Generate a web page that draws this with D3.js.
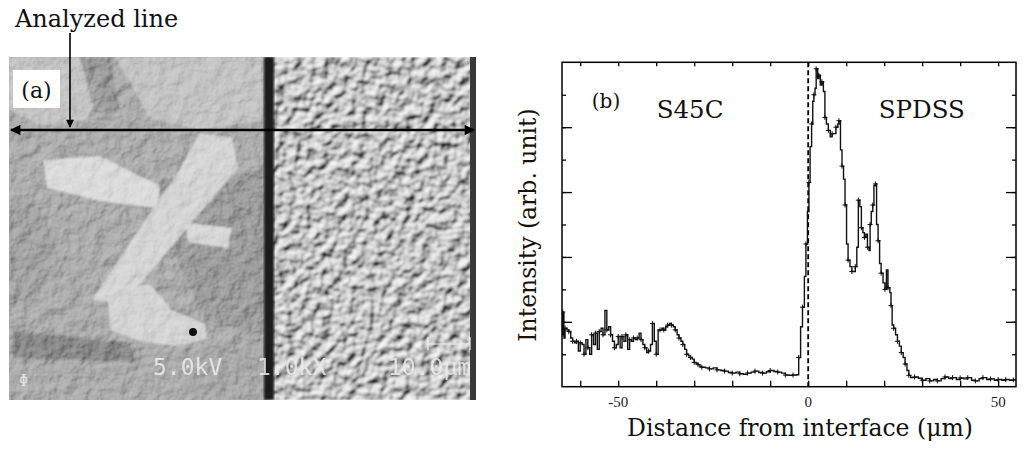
<!DOCTYPE html>
<html><head><meta charset="utf-8">
<script src="https://cdn.jsdelivr.net/npm/d3@7"></script>
<style>body{margin:0;background:#fff}svg{display:block}</style>
</head><body><svg id="c" width="1024" height="450"></svg>
<script>
// ---- data ----
const distance = [
-64.8,-64.6,-64.3,-64,-63.5,-63,-62.5,-62,-61.5,-61,-60.5,-60,-59.5,-59,-58.5,-58,-57.5,-57,-56.5,-56,
-55.5,-55,-54.5,-54,-53.5,-53,-52.5,-52,-51.5,-51,-50.5,-50,-49.5,-49,-48.5,-48,-47.5,-47,-46.5,-46,
-45.5,-45,-44.5,-44,-43.5,-43,-42.5,-42,-41.5,-41,-40.5,-40,-39.5,-39,-38.5,-38,-37.5,-37,-36.5,-36,
-35.5,-35,-34.5,-34,-33.5,-33,-32.5,-32,-31.5,-31,-30.5,-30,-29.5,-29,-28.5,-28,-27,-26,-25,-24,
-23,-22,-21,-20,-19,-18,-17,-16,-15,-14,-13,-12,-11,-10,-9,-8,-7,-6,-5,-4,
-3,-2.5,-2,-1.5,-1,-0.6,-0.2,0.2,0.5,0.9,1.2,1.5,1.8,2.1,2.5,2.8,3.2,3.6,4,4.4,
4.8,5.3,5.8,6.3,6.8,7.3,7.8,8.1,8.5,8.9,9.3,9.7,10.1,10.5,11,11.5,12,12.4,12.8,13.2,
13.6,14,14.4,14.8,15.2,15.6,16,16.3,16.6,17,17.3,17.7,18,18.4,18.8,19.2,19.7,20.2,20.6,21,
21.5,21.8,22.1,22.5,23,23.5,24,24.5,25,25.5,26,26.5,27,28,29,30,31,32,33,34,
35,36,37,38,39,40,41,42,43,44,45,46,47,48,49,50,51,52,53,54,55];
const intensity = [
1.6,2.3,1.5,1.8,1.75,1.7,1.5,1.4,1.35,1.4,1.1,1.35,1.3,1.0,1.45,1.2,1.0,1.6,1.3,1.65,
1.15,1.7,1.8,1.6,2.35,1.75,1.85,1.6,1.4,1.2,1.3,1.55,1.2,1.55,1.4,1.6,1.15,1.45,1.4,1.5,
1.45,1.5,1.65,1.45,1.3,1.2,1.05,1.1,1.3,1.95,1.4,1.0,1.75,1.75,1.8,1.75,1.85,1.9,1.95,1.9,
1.85,1.75,1.6,1.5,1.4,1.3,1.15,1.0,0.95,0.9,0.85,0.75,0.72,0.68,0.62,0.6,0.58,0.55,0.58,0.52,
0.5,0.48,0.44,0.42,0.45,0.4,0.38,0.42,0.45,0.48,0.44,0.42,0.46,0.5,0.47,0.45,0.42,0.36,0.35,0.36,
0.37,0.9,1.85,2.45,3.4,4.4,5.4,6.3,7.4,8.1,8.8,9.0,9.2,9.8,9.5,9.6,9.3,9.4,9.1,8.3,
8.1,7.9,7.7,7.8,7.8,8.0,8.1,8.2,7.3,6.8,6.4,5.6,4.4,3.9,3.7,3.55,3.55,3.7,4.3,5.75,
5.55,4.9,4.75,4.6,4.7,4.3,4.2,5.0,5.4,5.6,6.2,6.25,5.0,4.5,3.8,3.5,3.2,3.0,3.6,3.05,
2.9,2.5,1.9,1.8,1.6,1.4,1.25,1.05,0.9,0.7,0.5,0.35,0.28,0.3,0.26,0.2,0.25,0.18,0.22,0.18,
0.25,0.3,0.25,0.28,0.22,0.27,0.24,0.28,0.2,0.18,0.25,0.28,0.22,0.24,0.2,0.22,0.2,0.22,0.2,0.21,0.25];
const xMinorTicks = [-60,-50,-40,-30,-20,-10,0,10,20,30,40,50];
const xTickLabels = [-50,0,50];
const yTicks = [1,2,3,4,5,6,7,8,9];
const yMajorTicks = [2,4,6,8];
const regionLabels = [{t:"S45C",x:-31.1},{t:"SPDSS",x:29.9}];

const svg = d3.select("#c");
const serif = "'DejaVu Serif', serif";

// ================= panel (a): micrograph approximation =================
const defs = svg.append("defs");
const fg = defs.append("filter").attr("id","grain").attr("x",0).attr("y",0).attr("width","100%").attr("height","100%");
fg.append("feTurbulence").attr("type","fractalNoise").attr("baseFrequency","0.11").attr("numOctaves",2).attr("seed",11).attr("result","n");
fg.append("feDiffuseLighting").attr("in","n").attr("surfaceScale",5).attr("lighting-color","#f0f0f0").attr("result","l")
  .append("feDistantLight").attr("azimuth",235).attr("elevation",42);
const ct = fg.append("feComponentTransfer").attr("in","l").attr("result","c");
["R","G","B"].forEach(ch=>ct.append("feFunc"+ch).attr("type","linear").attr("slope",1.15).attr("intercept",-0.08));
fg.append("feGaussianBlur").attr("in","c").attr("stdDeviation",0.9);
const fl = defs.append("filter").attr("id","grainL").attr("x",0).attr("y",0).attr("width","100%").attr("height","100%");
fl.append("feTurbulence").attr("type","fractalNoise").attr("baseFrequency","0.08").attr("numOctaves",3).attr("seed",3).attr("result","n");
fl.append("feDiffuseLighting").attr("in","n").attr("surfaceScale",3).attr("lighting-color","#b5b5b5")
  .append("feDistantLight").attr("azimuth",225).attr("elevation",45);
const bl = defs.append("filter").attr("id","soft");
bl.append("feGaussianBlur").attr("stdDeviation",1.2);
defs.append("clipPath").attr("id","imgclip").append("rect").attr("x",9).attr("y",57).attr("width",467).attr("height",343);
defs.append("clipPath").attr("id","leftclip").append("rect").attr("x",9).attr("y",57).attr("width",257).attr("height",343);
defs.append("clipPath").attr("id","plotclip").append("rect").attr("x",562).attr("y",62).attr("width",454).attr("height",325);

const img = svg.append("g").attr("clip-path","url(#imgclip)");
const left = img.append("g").attr("clip-path","url(#leftclip)");
left.append("rect").attr("x",9).attr("y",57).attr("width",257).attr("height",343).attr("fill","#9c9c9c");
const shapes = [
  {p:[[9,57],[80,57],[100,95],[85,120],[40,125],[9,110]], f:"#bdbdbd", o:0.9},
  {p:[[80,57],[110,57],[120,110],[95,112]], f:"#7e7e7e", o:0.7},
  {p:[[115,57],[262,57],[262,120],[200,130],[150,118]], f:"#c4c4c4", o:0.7},
  {p:[[43,160],[100,156],[160,186],[157,208],[100,201],[47,188]], f:"#d8d8d8", o:0.95},
  {p:[[160,180],[263,172],[263,335],[205,320],[175,255]], f:"#888888", o:0.95},
  {p:[[92,300],[124,303],[238,168],[232,138],[200,133],[178,172]], f:"#d0d0d0", o:0.95},
  {p:[[185,222],[232,228],[228,248],[188,242]], f:"#d4d4d4", o:0.95},
  {p:[[107,293],[150,284],[172,310],[205,324],[207,340],[175,346],[140,341],[110,330]], f:"#cccccc", o:1},
  {p:[[13,330],[130,343],[136,362],[13,358]], f:"#757575", o:0.95},
  {p:[[9,200],[40,205],[60,260],[35,300],[9,310]], f:"#888888", o:0.5},
  {p:[[200,340],[263,335],[263,400],[190,400]], f:"#969696", o:0.6}
];
left.selectAll("path.sh").data(shapes).join("path").attr("class","sh")
  .attr("d",d=>d3.line()(d.p)+"Z").attr("fill",d=>d.f).attr("opacity",d=>d.o).attr("filter","url(#soft)");
left.append("rect").attr("x",9).attr("y",57).attr("width",257).attr("height",343).attr("filter","url(#grainL)")
  .style("mix-blend-mode","overlay").attr("opacity",0.75);
left.append("circle").attr("cx",193).attr("cy",332).attr("r",4).attr("fill","#111");
// right textured half
img.append("rect").attr("x",265).attr("y",57).attr("width",211).attr("height",343).attr("filter","url(#grain)");
img.append("rect").attr("x",264).attr("y",57).attr("width",10).attr("height",343).attr("fill","#1c1c1c").attr("filter","url(#soft)");
img.append("rect").attr("x",470).attr("y",57).attr("width",6).attr("height",343).attr("fill","#3a3a3a");
// instrument text
const mono = "'DejaVu Sans Mono', monospace";
[["5.0kV",153],["1.0kX",257],["10.0μm",388]].forEach(([t,x])=>{
  img.append("text").attr("x",x).attr("y",375).attr("font-family",mono).attr("font-size",23)
    .attr("fill","#ececec").attr("opacity",0.85).text(t);
});
img.append("text").attr("x",19).attr("y",386).attr("font-family",mono).attr("font-size",15).attr("fill","#e0e0e0").text("Φ");
img.append("path").attr("d","M428,337V350M428,344H470M470,337V350").attr("stroke","#eee").attr("stroke-width",1.2).attr("fill","none");
// (a) label box
svg.append("rect").attr("x",13).attr("y",70).attr("width",47).attr("height",38).attr("fill","#fff");
svg.append("text").attr("x",36.5).attr("y",98).attr("text-anchor","middle").attr("font-family",serif).attr("font-size",22).attr("fill","#111").text("(a)");
// analyzed line arrows
defs.append("marker").attr("id","ah").attr("viewBox","0 0 10 10").attr("refX",9).attr("refY",5)
  .attr("markerWidth",5).attr("markerHeight",4).attr("orient","auto-start-reverse").attr("markerUnits","strokeWidth")
  .append("path").attr("d","M0,0L10,5L0,10Z").attr("fill","#000");
defs.append("marker").attr("id","ah2").attr("viewBox","0 0 10 10").attr("refX",9).attr("refY",5)
  .attr("markerWidth",10).attr("markerHeight",8).attr("orient","auto").attr("markerUnits","userSpaceOnUse")
  .append("path").attr("d","M0,0L10,5L0,10Z").attr("fill","#000");
svg.append("line").attr("x1",11).attr("x2",474).attr("y1",130).attr("y2",130).attr("stroke","#000").attr("stroke-width",2.6)
  .attr("marker-start","url(#ah)").attr("marker-end","url(#ah)");
svg.append("line").attr("x1",70).attr("x2",70).attr("y1",33).attr("y2",127).attr("stroke","#000").attr("stroke-width",1.6)
  .attr("marker-end","url(#ah2)");
svg.append("text").attr("x",15).attr("y",26.5).attr("font-family",serif).attr("font-size",24).attr("fill","#111").text("Analyzed line");

// ================= panel (b): line profile =================
const x = d3.scaleLinear().domain([-64.8,54.7]).range([562,1016]);
const y = d3.scaleLinear().domain([0,10]).range([386.7,62.3]);
const data = distance.map((d,i)=>({d, v:intensity[i]}));
const g = svg.append("g");

// ticks (inward)
const axB = d3.axisBottom(x).tickValues(xMinorTicks).tickSize(-6).tickFormat("");
const axT = d3.axisTop(x).tickValues(xMinorTicks).tickSize(-4).tickFormat("");
const axL = d3.axisLeft(y).tickValues(yTicks).tickSize(-4).tickFormat("");
const axR = d3.axisRight(y).tickValues(yTicks).tickSize(-4).tickFormat("");
const axLM = d3.axisLeft(y).tickValues(yMajorTicks).tickSize(-10).tickFormat("");
const axRM = d3.axisRight(y).tickValues(yMajorTicks).tickSize(-10).tickFormat("");
[[axB,"translate(0,386.7)"],[axT,"translate(0,62.3)"],[axL,"translate(562,0)"],[axR,"translate(1016,0)"],
 [axLM,"translate(562,0)"],[axRM,"translate(1016,0)"]].forEach(([a,t])=>{
  const ga = g.append("g").attr("transform",t).call(a);
  ga.select(".domain").remove();
  ga.selectAll("line").attr("stroke","#000").attr("stroke-width",1.3);
});
// tick labels
g.selectAll("text.xt").data(xTickLabels).join("text").attr("class","xt")
  .attr("x",d=>x(d)).attr("y",407).attr("text-anchor","middle")
  .attr("font-family","'Liberation Serif', serif").attr("font-size",15).attr("fill","#222").text(d=>d);

// dashed interface line
g.append("line").attr("x1",x(0)).attr("x2",x(0)).attr("y1",y(10)).attr("y2",y(0))
  .attr("stroke","#000").attr("stroke-width",1.8).attr("stroke-dasharray","5,3");

// profile
const pc = g.append("g").attr("clip-path","url(#plotclip)");
pc.append("path").datum(data)
  .attr("d",d3.line().x(d=>x(d.d)).y(d=>y(d.v)).curve(d3.curveStepAfter))
  .attr("fill","none").attr("stroke","#111").attr("stroke-width",1.4);
pc.selectAll("path.mk").data(data.filter((d,i)=>i%2===1)).join("path").attr("class","mk")
  .attr("d",d=>`M${x(d.d)-2.5},${y(d.v)}h5M${x(d.d)},${y(d.v)-2.5}v5`)
  .attr("stroke","#111").attr("stroke-width",1);

// frame
g.append("rect").attr("x",562).attr("y",62.3).attr("width",454).attr("height",324.4)
  .attr("fill","none").attr("stroke","#000").attr("stroke-width",1.5);

// labels
g.append("text").attr("x",606).attr("y",108).attr("text-anchor","middle").attr("font-family",serif)
  .attr("font-size",20).attr("fill","#111").text("(b)");
g.selectAll("text.rl").data(regionLabels).join("text").attr("class","rl")
  .attr("x",d=>x(d.x)).attr("y",118).attr("text-anchor","middle").attr("font-family",serif)
  .attr("font-size",24.5).attr("fill","#111").text(d=>d.t);
g.append("text").attr("x",800).attr("y",436).attr("text-anchor","middle").attr("font-family",serif)
  .attr("font-size",23.5).attr("fill","#111").text("Distance from interface (μm)");
g.append("text").attr("transform","translate(536,225) rotate(-90)").attr("text-anchor","middle").attr("font-family",serif)
  .attr("font-size",23.5).attr("fill","#1a1208").text("Intensity (arb. unit)");
</script></body></html>
